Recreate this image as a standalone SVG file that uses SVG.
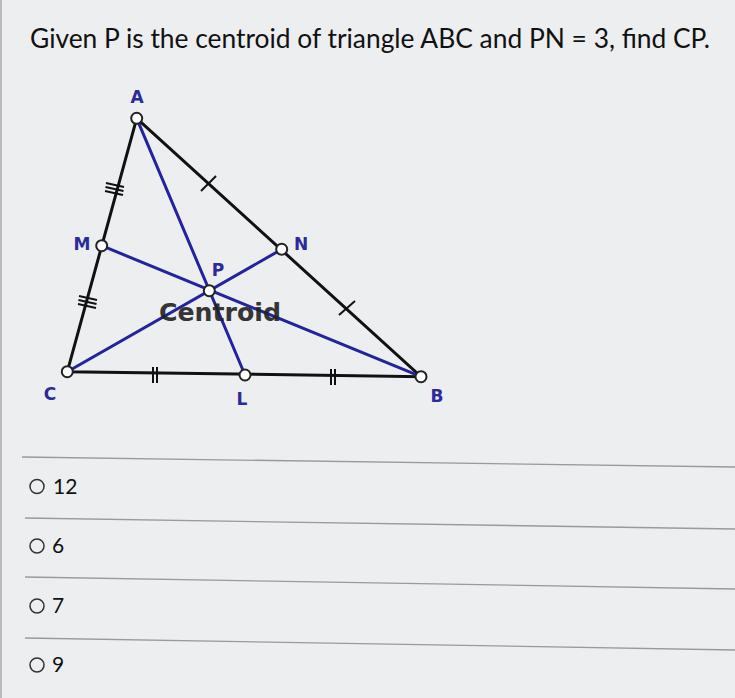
<svg xmlns="http://www.w3.org/2000/svg" width="735" height="698" viewBox="0 0 735 698">
<style>
.tri{stroke:#111;stroke-width:3;fill:none;stroke-linecap:round}
.med{stroke:#2323a0;stroke-width:3;fill:none;stroke-linecap:round}
.tick{stroke:#111;stroke-width:2;fill:none}
.pt{fill:#fff;stroke:#222;stroke-width:2}
.lbl{font-family:"DejaVu Sans",sans-serif;font-weight:bold;font-size:17px;fill:#2a2a9a;text-anchor:middle}
.q{font-family:Lato,"Open Sans",sans-serif;fill:#111}
.sep{stroke:#9a9a9a;stroke-width:1.3}
.rad{fill:none;stroke:#333;stroke-width:1.5}
</style>
<rect width="735" height="698" fill="#eceeef"/>
<line x1="1" y1="0" x2="1" y2="698" stroke="#bbb" stroke-width="2"/>
<text class="q" x="30" y="48" font-size="27" textLength="680" lengthAdjust="spacingAndGlyphs">Given P is the centroid of triangle ABC and PN = 3, find CP.</text>
<g id="connectors">
<polyline class="tri" points="136.7,118.3 421,376.7 67.3,371.7 136.7,118.3"/>
<line class="med" x1="136.7" y1="118.3" x2="245" y2="375"/>
<line class="med" x1="101.7" y1="245.7" x2="421" y2="376.7"/>
<line class="med" x1="67.3" y1="371.7" x2="281.7" y2="249.3"/>
<g class="tick">
<line x1="201" y1="191" x2="216" y2="176"/>
<line x1="339" y1="315" x2="355" y2="301"/>
<line x1="153" y1="367" x2="153" y2="383"/>
<line x1="157" y1="367" x2="157" y2="383"/>
<line x1="331" y1="369" x2="331" y2="385"/>
<line x1="335" y1="369" x2="335" y2="385"/>
<line x1="106" y1="183" x2="124" y2="187"/>
<line x1="105.5" y1="187" x2="123.5" y2="191"/>
<line x1="105" y1="191" x2="123" y2="195"/>
<line x1="79" y1="296" x2="97" y2="300"/>
<line x1="78.5" y1="300" x2="96.5" y2="304"/>
<line x1="78" y1="304" x2="96" y2="308"/>
</g>
</g>
<text x="220" y="321" font-family="DejaVu Sans,sans-serif" font-size="24" font-weight="bold" fill="#222" textLength="122" lengthAdjust="spacingAndGlyphs" text-anchor="middle" opacity="0.9">Centroid</text>
<g id="A"><circle class="pt" cx="136.7" cy="118.3" r="5.5"/><text class="lbl" x="137" y="103">A</text></g>
<g id="M"><circle class="pt" cx="101.7" cy="245.7" r="5.5"/><text class="lbl" x="82" y="250">M</text></g>
<g id="N"><circle class="pt" cx="281.7" cy="249.3" r="5.5"/><text class="lbl" x="301" y="250">N</text></g>
<g id="P"><circle class="pt" cx="209.3" cy="290.7" r="5.5"/><text class="lbl" x="218" y="276">P</text></g>
<g id="C"><circle class="pt" cx="67.3" cy="371.7" r="5.5"/><text class="lbl" x="50" y="400">C</text></g>
<g id="L"><circle class="pt" cx="245" cy="375" r="5.5"/><text class="lbl" x="242" y="405">L</text></g>
<g id="B"><circle class="pt" cx="421" cy="376.7" r="5.5"/><text class="lbl" x="437" y="402">B</text></g>
<g id="options">
<line class="sep" x1="22" y1="457" x2="735" y2="467"/>
<line class="sep" x1="25" y1="518" x2="735" y2="529"/>
<line class="sep" x1="25" y1="577" x2="735" y2="589"/>
<line class="sep" x1="25" y1="638" x2="735" y2="650"/>
<circle class="rad" cx="37" cy="486.5" r="7"/>
<text class="q" x="53" y="494" font-size="21">12</text>
<circle class="rad" cx="37" cy="546" r="7"/>
<text class="q" x="52" y="553" font-size="21">6</text>
<circle class="rad" cx="37" cy="606" r="7"/>
<text class="q" x="52" y="613" font-size="21">7</text>
<circle class="rad" cx="37" cy="665" r="7"/>
<text class="q" x="52" y="672" font-size="21">9</text>
</g>
</svg>
